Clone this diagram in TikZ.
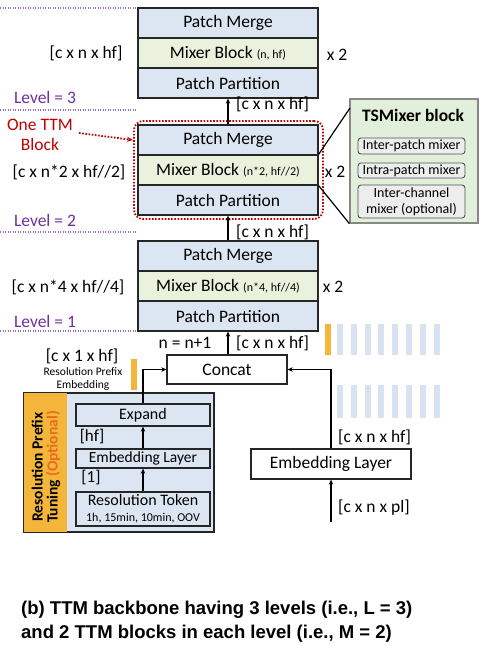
\documentclass[tikz,border=0pt]{standalone}
\usepackage{fontspec}
\setmainfont{Carlito}
\newfontfamily\capfont{Liberation Sans}
\usetikzlibrary{arrows.meta}
\definecolor{pblue}{RGB}{220,230,242}
\definecolor{mgreen}{RGB}{234,241,221}
\definecolor{tsgreen}{RGB}{226,239,218}
\definecolor{subgray}{RGB}{237,237,237}
\definecolor{edge}{RGB}{38,38,38}
\definecolor{lvl}{RGB}{112,48,160}
\definecolor{lvldot}{RGB}{150,110,200}
\definecolor{ttmred}{RGB}{192,0,0}
\definecolor{gold}{RGB}{243,182,58}
\definecolor{barblue}{RGB}{217,226,241}
\definecolor{optc}{RGB}{232,108,30}
\tikzset{
  fmain/.style={font=\fontsize{17.5}{20}\selectfont},
  rowbox/.style={draw=edge, line width=1.3pt, inner sep=0pt, minimum width=180pt, minimum height=30pt, fmain},
  patchrow/.style={rowbox, fill=pblue},
  mixrow/.style={rowbox, fill=mgreen},
  lbl/.style={fmain, inner sep=0pt},
  lvltext/.style={fmain, text=lvl, inner sep=0pt},
  lvlline/.style={draw=lvldot, line width=1.3pt, dash pattern=on 1.3pt off 1.2pt},
  arr/.style={draw=black, line width=1.1pt, -{Stealth[length=5pt,width=4.5pt]}},
  subbox/.style={draw=edge!80, line width=0.9pt, fill=subgray, rounded corners=3pt, inner sep=0pt, minimum width=107pt, font=\fontsize{14}{16}\selectfont, align=center},
  innerbox/.style={draw=edge, line width=1.3pt, fill=pblue, inner sep=0pt, minimum width=134pt},
  bar/.style={draw=none, fill=barblue},
}
\begin{document}
\begin{tikzpicture}[x=1pt,y=-1pt]
\useasboundingbox[fill=white] (0,0) rectangle (486,646);

% level dotted lines
\draw[lvlline] (0,8) -- (137,8);
\draw[lvlline] (0,110) -- (137,110);
\draw[lvlline] (0,232) -- (137,232);
\draw[lvlline] (0,331) -- (137,331);

% stack 1 (level 3)
\node[patchrow] (s1pm) at (228,23) {Patch Merge};
\node[mixrow]   (s1mb) at (228,53) {Mixer Block {\fontsize{12}{12}\selectfont (n, hf)}};
\node[patchrow] (s1pp) at (228,83) {Patch Partition};
\node[lbl] (l1) at (86,53) {[c x n x hf]};
\node[lbl] (x1) at (337,55) {x 2};
\node[lvltext] (lv3) at (45,97) {Level = 3};

% stack 2 (level 2)
\node[patchrow] (s2pm) at (228,140) {Patch Merge};
\node[mixrow]   (s2mb) at (228,170) {Mixer Block {\fontsize{12}{12}\selectfont (n*2, hf//2)}};
\node[patchrow] (s2pp) at (228,200) {Patch Partition};
\node[lbl] (l2) at (69,172) {[c x n*2 x hf//2]};
\node[lbl] (x2) at (335,172) {x 2};
\node[lvltext] (lv2) at (45,220) {Level = 2};
\node[draw=ttmred, line width=1.8pt, dash pattern=on 1.6pt off 1.6pt, rounded corners=9pt, minimum width=189pt, minimum height=98pt, inner sep=0pt] (ttmbox) at (228.5,170) {};
\node[fmain, text=ttmred, align=center, inner sep=0pt] (ttm) at (40,135) {One TTM\\Block};
\coordinate (ttmtip) at (133,140);
\draw[draw=ttmred, line width=1.8pt, dash pattern=on 1.6pt off 1.6pt, -{Stealth[length=6pt,width=5pt]}] ([xshift=6pt,yshift=2pt]ttm.east) -- (ttmtip);

% stack 3 (level 1)
\node[patchrow] (s3pm) at (228,256) {Patch Merge};
\node[mixrow]   (s3mb) at (228,286) {Mixer Block {\fontsize{12}{12}\selectfont (n*4, hf//4)}};
\node[patchrow] (s3pp) at (228,316) {Patch Partition};
\node[lbl] (l3) at (68,287) {[c x n*4 x hf//4]};
\node[lbl] (x3) at (333,287) {x 2};
\node[lvltext] (lv1) at (45,321) {Level = 1};

% arrows between stacks
\draw[arr] (s2pm.north) -- (s1pp.south);
\node[lbl, anchor=west] (a1) at (236,104) {[c x n x hf]};
\draw[arr] (s3pm.north) -- (s2pp.south);
\node[lbl, anchor=west] (a2) at (236,232) {[c x n x hf]};

% TSMixer block
\node[draw=edge!55, line width=1.2pt, fill=tsgreen, minimum width=128pt, minimum height=124pt, inner sep=0pt] (tsm) at (414,161) {};
\node[font=\bfseries\fontsize{17.5}{20}\selectfont, inner sep=0pt] (tsmt) at (413,115) {TSMixer block};
\node[subbox, minimum height=16pt] (sb1) at (411.5,146) {Inter-patch mixer};
\node[subbox, minimum height=15pt] (sb2) at (411.5,170.5) {Intra-patch mixer};
\node[subbox, minimum height=33pt] (sb3) at (411.5,201.5) {Inter-channel\\mixer (optional)};
\coordinate (tsmtop) at (350,108);
\draw[line width=1.2pt] (s2mb.north east) -- (tsmtop);
\draw[line width=1.2pt] (s2mb.south east) -- (tsm.south west);

% concat
\node[draw=edge, line width=1.3pt, fill=white, minimum width=120pt, minimum height=29pt, inner sep=0pt, fmain] (concat) at (227,369.5) {Concat};
\draw[arr] (s3pp.south |- concat.north) -- (s3pp.south);
\node[lbl] (nn) at (185,343) {n = n+1};
\node[lbl, anchor=west] (a3) at (236,343) {[c x n x hf]};

% bars
\fill[gold] (325,324) rectangle (331,355);
\foreach \bx in {337,351,365,378,392,406,420,434} {
  \fill[barblue] (\bx,324) rectangle (\bx+6,355);
  \fill[barblue] (\bx,385) rectangle (\bx+6,418);
}

% resolution prefix labels
\node[lbl] (rp1) at (82,356) {[c x 1 x hf]};
\node[font=\fontsize{11.5}{13}\selectfont, align=center, inner sep=0pt] (rp2) at (83,378.5) {Resolution Prefix\\Embedding};
\fill[gold] (131,359) rectangle (137,390);

% resolution prefix tuning box
\node[draw=edge, line width=1.3pt, fill=pblue, minimum width=190pt, minimum height=139pt, inner sep=0pt] (rpt) at (119,462.5) {};
\fill[gold] ([shift={(0.65pt,-0.65pt)}]rpt.north west) rectangle ([shift={(44pt,0.65pt)}]rpt.south west);
\node[rotate=90, align=center, font=\bfseries\fontsize{15.5}{15}\selectfont, inner sep=0pt] (rptl) at (46,467) {Resolution Prefix\\Tuning {\color{optc}(Optional)}};
\node[innerbox, minimum height=22pt, font=\fontsize{16}{18}\selectfont] (expand) at (143,415) {Expand};
\node[innerbox, minimum height=19pt, font=\fontsize{15.5}{18}\selectfont] (embl) at (143,458.5) {Embedding Layer};
\node[innerbox, minimum height=34pt, align=center, font=\fontsize{16}{17}\selectfont] (token) at (143,509) {Resolution Token\\[-1pt]{\fontsize{12}{13}\selectfont 1h, 15min, 10min, OOV}};
\draw[arr] (token.north) -- (embl.south);
\draw[arr] (embl.north) -- (expand.south);
\node[lbl, font=\fontsize{17}{20}\selectfont] (hf) at (92,437) {[hf]};
\node[lbl, font=\fontsize{17}{20}\selectfont] (one) at (91,478) {[1]};
\draw[arr] (expand.north) |- (concat.west);

% right embedding layer
\node[draw=edge, line width=1.3pt, fill=white, minimum width=160pt, minimum height=30pt, inner sep=0pt, fmain] (emb) at (331,464) {Embedding Layer};
\coordinate (plin) at (331,522);
\draw[arr] (plin) -- (emb.south);
\draw[arr] (emb.north) |- (concat.east);
\node[lbl, anchor=west] (a4) at (338,437) {[c x n x hf]};
\node[lbl, anchor=west] (a5) at (338,508) {[c x n x pl]};

% caption
\node[anchor=base west, inner sep=0pt, font=\capfont\bfseries\fontsize{18.5}{22}\selectfont] (cap1) at (21,614.5) {(b) TTM backbone having 3 levels (i.e., L = 3)};
\node[anchor=base west, inner sep=0pt, font=\capfont\bfseries\fontsize{18.5}{22}\selectfont] (cap2) at (21,638.5) {and 2 TTM blocks in each level (i.e., M = 2)};
\end{tikzpicture}
\end{document}
